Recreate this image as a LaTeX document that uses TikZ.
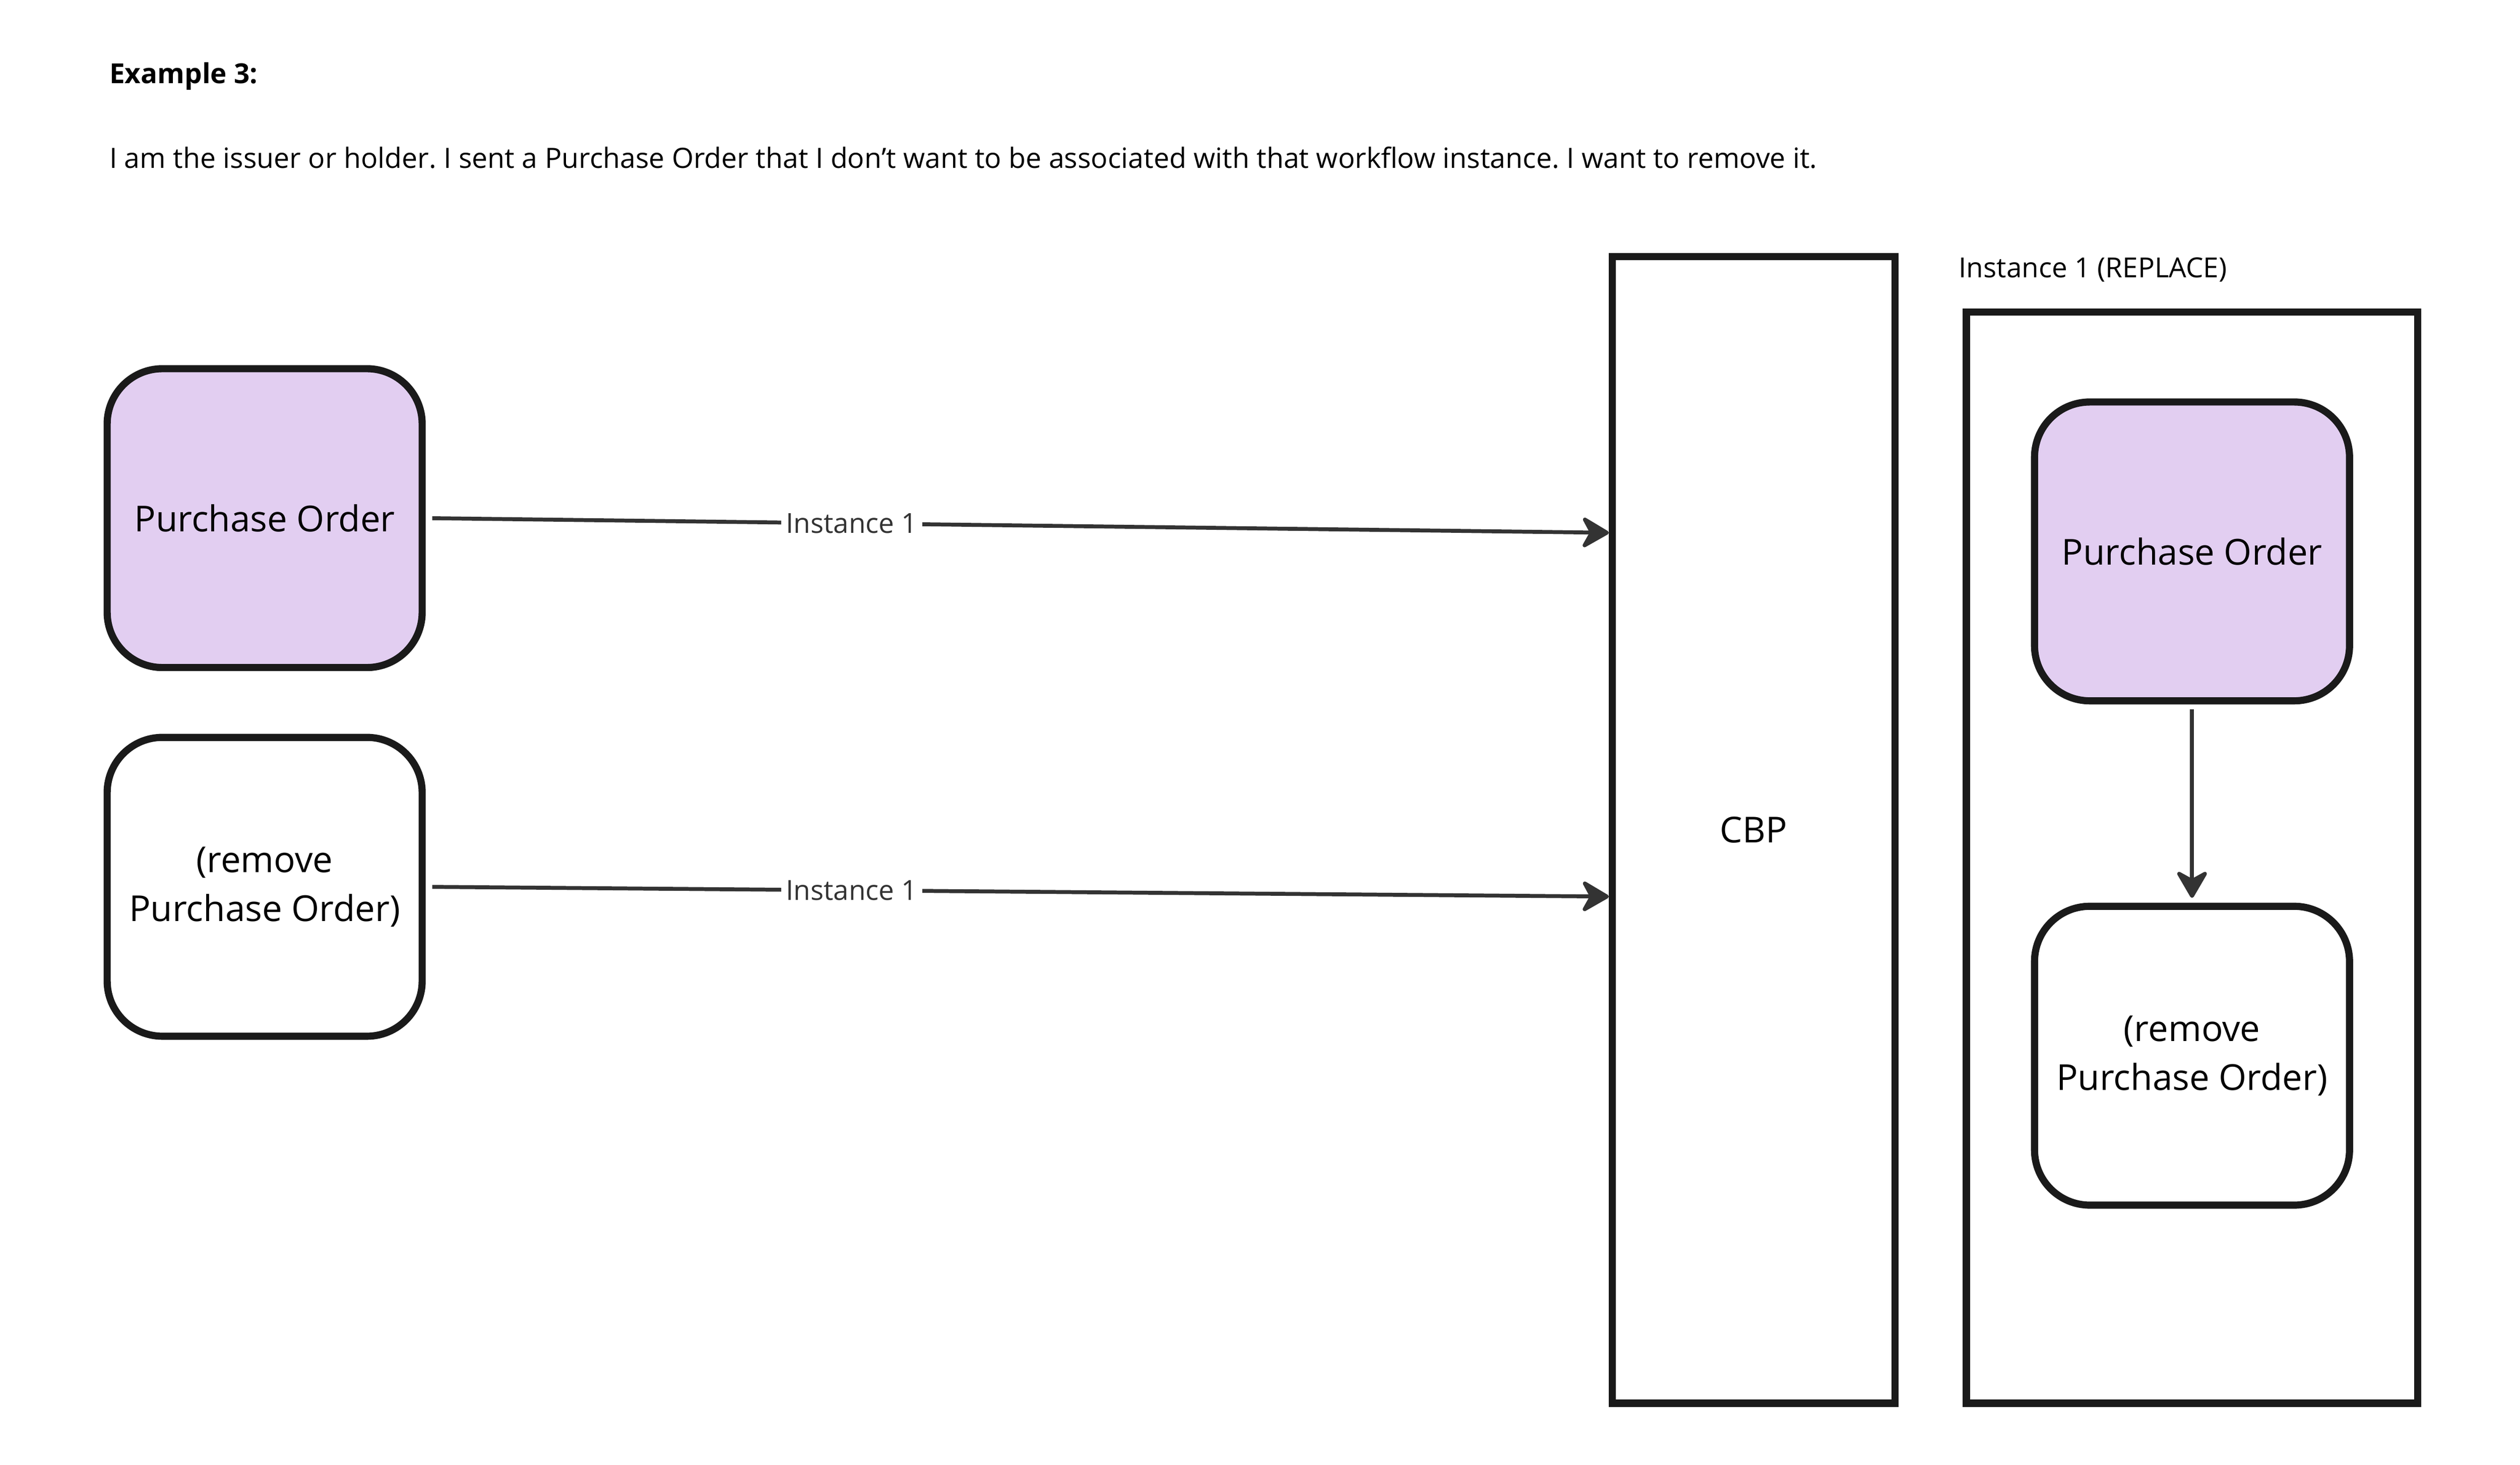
\documentclass[tikz,border=0pt]{standalone}
\usepackage{fontspec}
\setmainfont{Open Sans}
\usetikzlibrary{arrows.meta}

\definecolor{lilac}{RGB}{226,206,241}
\definecolor{ink}{RGB}{26,26,26}
\definecolor{wire}{RGB}{51,51,51}

\begin{document}
\frenchspacing
\begin{tikzpicture}[x=0.5pt, y=-0.5pt,
  doc/.style={draw=ink, line width=2.2pt, rounded corners=17pt,
              minimum width=97pt, minimum height=92pt, inner sep=0pt,
              align=center, font=\fontsize{11}{15}\selectfont},
  frame/.style={draw=ink, line width=2.2pt, inner sep=0pt},
  link/.style={wire, line width=1.2pt,
               -{Stealth[length=9.5pt, width=11pt, inset=3pt, round]}},
  tag/.style={fill=white, inner sep=1.5pt, font=\fontsize{8.5}{10}\selectfont}]

\useasboundingbox (0,0) rectangle (1552,902);

% Heading and the sentence under it.
\node[anchor=west, inner sep=0pt, font=\fontsize{8.5}{10}\selectfont\bfseries]
  (title) at (67,47) {Example 3:};
\node[anchor=west, inner sep=0pt, font=\fontsize{8.6}{10}\selectfont] (story) at (67,97)
  {I am the issuer or holder. I sent a Purchase Order that I don't want to be associated with that workflow instance. I want to remove it.};

% The two documents on the left.
\node[doc, fill=lilac] (po) at (163,319) {Purchase Order};
\node[doc] (rm) at (163,546) {(remove\\Purchase Order)};

% CBP and the instance frame.
\node[frame, minimum width=87pt, minimum height=353pt,
      font=\fontsize{11}{15}\selectfont] (cbp) at (1080,511) {CBP};
\node[frame, minimum width=139pt, minimum height=336pt] (inst) at (1350,528) {};
\node[anchor=south west, inner sep=0pt, font=\fontsize{8.5}{10}\selectfont]
  (insttitle) at (1206,174) {Instance 1 (REPLACE)};

\node[doc, fill=lilac] (po2) at (1350,339.5) {Purchase Order};
\node[doc] (rm2) at (1350,650) {(remove\\Purchase Order)};

% Where the arrows hit CBP.
\coordinate (in1) at (cbp.west |- 0,328);
\coordinate (in2) at (cbp.west |- 0,552);

\draw[link, shorten <=2pt] (po.east) -- node[tag, pos=0.36] {Instance 1} (in1);
\draw[link, shorten <=2pt] (rm.east) -- node[tag, pos=0.36] {Instance 1} (in2);
\draw[link, shorten <=1.5pt, shorten >=1.5pt] (po2.south) -- (rm2.north);
\end{tikzpicture}
\end{document}
